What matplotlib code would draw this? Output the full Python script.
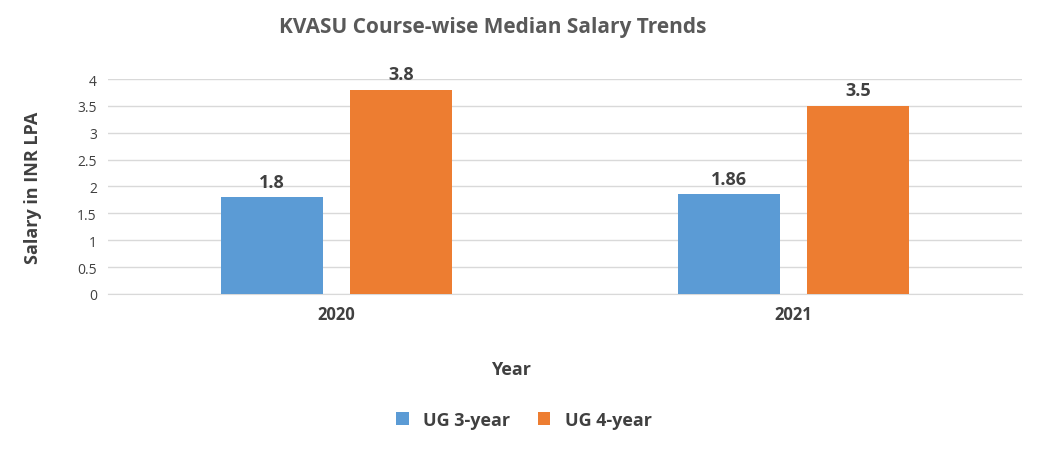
import matplotlib
matplotlib.use("Agg")
import matplotlib.pyplot as plt
import numpy as np

years = ["2020", "2021"]
ug3 = [1.8, 1.86]
ug4 = [3.8, 3.5]
series_names = ["UG 3-year", "UG 4-year"]
yticks = [0, 0.5, 1, 1.5, 2, 2.5, 3, 3.5, 4]

plt.rcParams['font.family'] = ['Open Sans', 'DejaVu Sans']
fig = plt.figure(figsize=(10.48, 4.6), dpi=100)
ax = fig.add_axes([0.103, 0.359, 0.872, 0.467])
x = np.arange(len(years))
w = 0.223
off = 0.141
c1, c2 = "#5B9BD5", "#ED7D31"
b1 = ax.bar(x - off, ug3, w, color=c1, label=series_names[0], zorder=3)
b2 = ax.bar(x + off, ug4, w, color=c2, label=series_names[1], zorder=3)
for bars, vals in ((b1, ug3), (b2, ug4)):
    for b, v in zip(bars, vals):
        ax.text(b.get_x() + b.get_width()/2, v + 0.12, f"{v:g}", ha="center", va="bottom",
                fontsize=13, fontweight="bold", color="#404040")
ax.set_xlim(-0.5, 1.5)
ax.set_ylim(0, 4)
ax.set_yticks(yticks)
ax.set_yticklabels([f"{t:g}" for t in yticks], fontsize=10, color="#404040")
ax.set_xticks(x)
ax.set_xticklabels(years, fontsize=12, fontweight="bold", color="#404040")
ax.tick_params(length=0, pad=8)
ax.yaxis.grid(True, color="#D9D9D9", lw=1, zorder=0)
for s in ["top", "right", "left"]:
    ax.spines[s].set_visible(False)
ax.spines["bottom"].set_color("#D9D9D9")
ax.set_xlabel("Year", fontsize=13, fontweight="bold", color="#404040")
ax.xaxis.set_label_coords(0.441, -0.31)
ax.set_ylabel("Salary in INR LPA", fontsize=13, fontweight="bold", color="#404040")
ax.yaxis.set_label_coords(-0.072, 0.5)
fig.text(0.47, 0.94, "KVASU Course-wise Median Salary Trends", ha="center", va="center",
         fontsize=15, fontweight="bold", color="#595959")
fig.legend(handles=[b1, b2], loc="center", bbox_to_anchor=(0.5, 0.085), ncol=2, frameon=False,
           prop={"size": 13, "weight": "bold"}, labelcolor="#404040", handlelength=0.7,
           handleheight=0.7, columnspacing=1.5)
fig.savefig("out.png", dpi=100)
